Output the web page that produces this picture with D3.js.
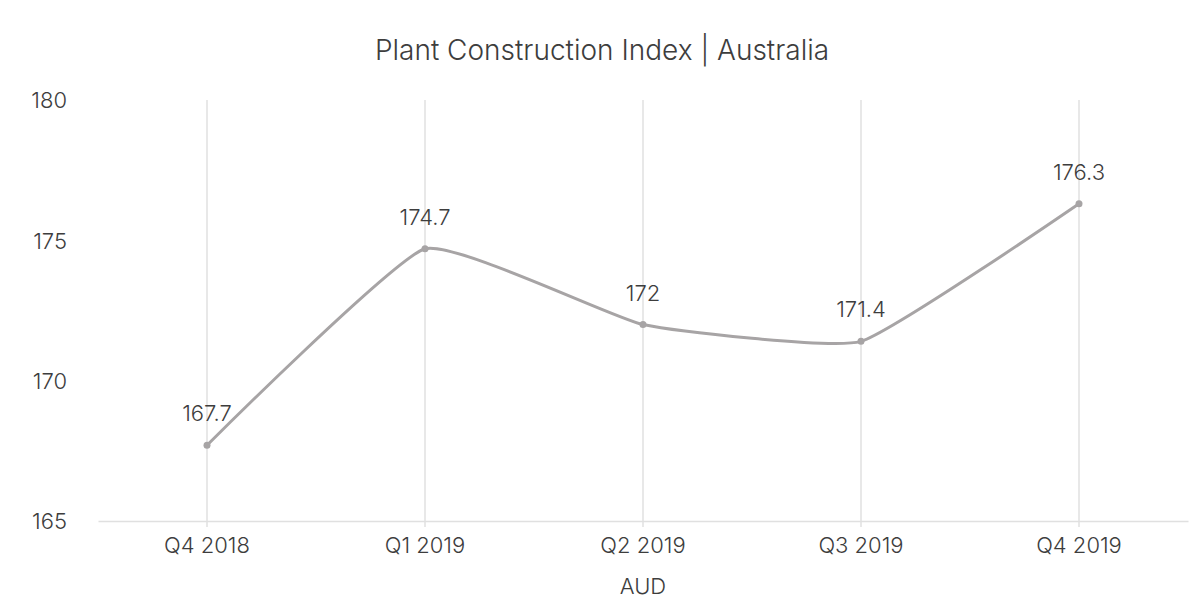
<!DOCTYPE html>
<html>
<head>
<meta charset="utf-8">
<script src="https://cdn.jsdelivr.net/npm/d3@7"></script>
<style>
  body { margin: 0; background: #fff; }
  svg text { font-family: Inter, "Open Sans", sans-serif; fill: #3d3d3d; font-weight: 300; }
</style>
</head>
<body>
<div id="chart"></div>
<script>
var quarters = ["Q4 2018", "Q1 2019", "Q2 2019", "Q3 2019", "Q4 2019"];
var values = [167.7, 174.7, 172, 171.4, 176.3];
var yTicks = [165, 170, 175, 180];

var width = 1200,
    height = 615;
var svg = d3.select("#chart").append("svg")
    .attr("width", width)
    .attr("height", height);

var x = d3.scaleBand()
    .domain(quarters)
    .range([98, 1188]);
var y = d3.scaleLinear()
    .domain([165, 180])
    .range([521, 100]);

var data = quarters.map((q, i) => ({ q: q, v: values[i] }));

// vertical grid lines
svg.append("g")
    .selectAll("line")
    .data(quarters)
    .enter().append("line")
    .attr("x1", d => x(d) + x.bandwidth() / 2)
    .attr("x2", d => x(d) + x.bandwidth() / 2)
    .attr("y1", y(180))
    .attr("y2", 527)
    .attr("stroke", "#e0e0e0")
    .attr("stroke-width", 1.5);

// x axis
var xAxis = svg.append("g")
    .attr("transform", "translate(0," + y(165) + ")")
    .call(d3.axisBottom(x).tickSize(0).tickPadding(16));
xAxis.select(".domain").attr("stroke", "#e0e0e0").attr("stroke-width", 1.5);
xAxis.selectAll("text").style("font-size", "22px");

// y axis
var yAxis = svg.append("g")
    .attr("transform", "translate(67,0)")
    .call(d3.axisLeft(y).tickValues(yTicks).tickSize(0).tickPadding(0));
yAxis.select(".domain").remove();
yAxis.selectAll("text").style("font-size", "22px").attr("dy", "0.36em");

var line = d3.line()
    .x(d => x(d.q) + x.bandwidth() / 2)
    .y(d => y(d.v))
    .curve(d3.curveCardinal.tension(0.6));

svg.append("path")
    .datum(data)
    .attr("fill", "none")
    .attr("stroke", "#a7a4a5")
    .attr("stroke-width", 3)
    .attr("d", line);

svg.append("g")
    .selectAll("circle")
    .data(data)
    .enter().append("circle")
    .attr("cx", d => x(d.q) + x.bandwidth() / 2)
    .attr("cy", d => y(d.v))
    .attr("r", 3.5)
    .attr("fill", "#a7a4a5");

svg.append("g")
    .selectAll("text")
    .data(data)
    .enter().append("text")
    .attr("x", d => x(d.q) + x.bandwidth() / 2)
    .attr("y", d => y(d.v) - 24)
    .attr("text-anchor", "middle")
    .style("font-size", "22px")
    .text(d => d.v);

svg.append("text")
    .attr("x", 602)
    .attr("y", 60)
    .attr("text-anchor", "middle")
    .style("font-size", "28px")
    .text("Plant Construction Index | Australia");

svg.append("text")
    .attr("x", 643)
    .attr("y", 594)
    .attr("text-anchor", "middle")
    .style("font-size", "22px")
    .text("AUD");
</script>
</body>
</html>
